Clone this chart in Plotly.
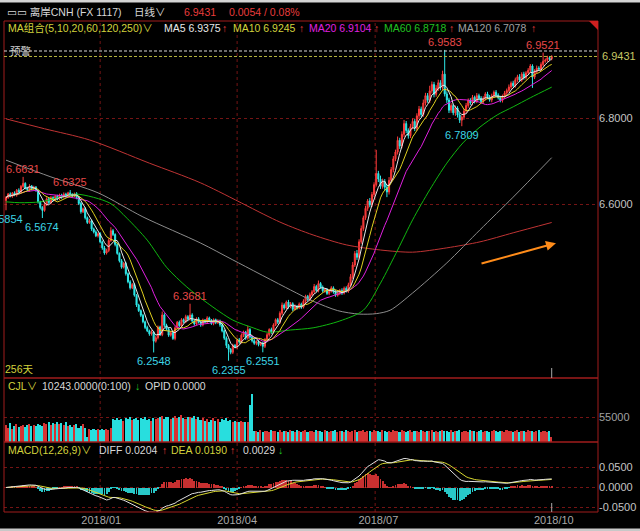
import plotly.graph_objects as go
import pandas as pd

# ---------------- data ----------------
closes = [
    6.6150, 6.6230, 6.6180, 6.6260, 6.6210, 6.6320, 6.6280, 6.6410, 6.6480, 6.6370, 6.6330, 6.6420, 6.6350, 6.6390, 6.6310, 6.6050,
    6.5920, 6.5850, 6.5990, 6.6120, 6.6030, 6.6150, 6.6090, 6.6180, 6.6120, 6.6210, 6.6160, 6.6230, 6.6180, 6.6260, 6.6220, 6.6190,
    6.6240, 6.6150, 6.6010, 6.5820, 6.5890, 6.5680, 6.5570, 6.5610, 6.5420, 6.5350, 6.5260, 6.5310, 6.5120, 6.4980, 6.4860, 6.4920,
    6.5150, 6.5380, 6.5290, 6.5060, 6.4850, 6.4680, 6.4530, 6.4620, 6.4380, 6.4190, 6.4050, 6.4130, 6.3880, 6.3650, 6.3520, 6.3410,
    6.3260, 6.3130, 6.3050, 6.2980, 6.3020, 6.2810, 6.2890, 6.3140, 6.2960, 6.3420, 6.3180, 6.3090, 6.2950, 6.3010, 6.2870, 6.3120,
    6.3250, 6.3170, 6.3310, 6.3260, 6.3380, 6.3320, 6.3420, 6.3280, 6.3210, 6.3330, 6.3250, 6.3190, 6.3300, 6.3260, 6.3350, 6.3290,
    6.3220, 6.3310, 6.3240, 6.3280, 6.3190, 6.3050, 6.2880, 6.2710, 6.2620, 6.2550, 6.2710, 6.2680, 6.2840, 6.2790, 6.2950, 6.3020,
    6.2880, 6.3080, 6.2910, 6.2820, 6.2760, 6.2800, 6.2730, 6.2770, 6.2690, 6.2850, 6.2960, 6.3080, 6.3020, 6.3190, 6.3310, 6.3250,
    6.3460, 6.3650, 6.3580, 6.3720, 6.3610, 6.3680, 6.3550, 6.3620, 6.3590, 6.3670, 6.3600, 6.3740, 6.3850, 6.3780, 6.3890, 6.3960,
    6.4080, 6.3990, 6.4150, 6.4060, 6.3980, 6.4010, 6.3920, 6.3970, 6.4050, 6.3960, 6.3880, 6.3920, 6.3990, 6.3930, 6.4040, 6.3980,
    6.4120, 6.4310, 6.4580, 6.4850, 6.4760, 6.5120, 6.5430, 6.5680, 6.5900, 6.6070, 6.5980, 6.6220, 6.6450, 6.6710, 6.6580, 6.6410,
    6.6520, 6.6390, 6.6280, 6.6550, 6.6800, 6.7050, 6.7210, 6.7480, 6.7350, 6.7620, 6.7870, 6.7710, 6.7590, 6.7800, 6.7920, 6.7760,
    6.8050, 6.8210, 6.8080, 6.8350, 6.8520, 6.8410, 6.8630, 6.8780, 6.8550, 6.8690, 6.8820, 6.8710, 6.9020, 6.8560, 6.8420, 6.8180,
    6.8290, 6.8120, 6.8230, 6.8070, 6.7950, 6.8020, 6.8160, 6.8290, 6.8410, 6.8350, 6.8480, 6.8390, 6.8520, 6.8460, 6.8380, 6.8450,
    6.8560, 6.8490, 6.8420, 6.8510, 6.8600, 6.8530, 6.8470, 6.8410, 6.8490, 6.8580, 6.8640, 6.8720, 6.8810, 6.8750, 6.8890, 6.8960,
    6.8880, 6.9020, 6.8940, 6.9050, 6.9110, 6.9210, 6.8950, 6.9080, 6.9160, 6.9140, 6.9245, 6.9320, 6.9345, 6.9402, 6.9377, 6.9431,
]
first_open = 6.6080

# upper / lower shadow lengths in pips (0.0001)
wick_up = [
    30, 25, 40, 20, 35, 28, 45, 30, 151, 25, 30, 40, 22, 35, 28, 20,
    25, 30, 45, 35, 28, 40, 30, 25, 35, 30, 28, 40, 32, 25, 65, 30,
    25, 35, 30, 40, 28, 35, 30, 45, 25, 30, 40, 28, 35, 30, 45, 40,
    50, 80, 40, 30, 35, 25, 40, 30, 35, 28, 40, 30, 35, 25, 30, 28,
    35, 30, 40, 30, 45, 30, 40, 35, 30, 80, 40, 35, 45, 30, 40, 35,
    30, 40, 35, 30, 45, 35, 261, 40, 30, 35, 40, 30, 35, 25, 40, 30,
    35, 30, 25, 40, 30, 35, 30, 40, 35, 30, 40, 35, 30, 45, 40, 35,
    30, 90, 35, 30, 40, 30, 35, 30, 28, 35, 40, 30, 45, 35, 30, 40,
    45, 60, 40, 35, 50, 40, 35, 45, 30, 40, 35, 45, 40, 35, 50, 40,
    60, 40, 70, 35, 45, 40, 35, 50, 40, 35, 45, 40, 35, 50, 40, 45,
    50, 60, 70, 55, 80, 60, 70, 50, 60, 45, 70, 60, 55, 550, 60, 80,
    70, 60, 50, 75, 60, 65, 55, 90, 60, 70, 85, 60, 50, 65, 70, 55,
    60, 70, 55, 80, 65, 60, 120, 70, 60, 75, 70, 60, 80, 563, 60, 50,
    55, 40, 60, 45, 50, 40, 55, 60, 45, 50, 55, 40, 60, 45, 50, 55,
    40, 50, 45, 55, 40, 50, 45, 40, 55, 50, 45, 60, 40, 55, 50, 45,
    60, 45, 55, 40, 50, 45, 40, 55, 60, 45, 50, 201, 40, 45, 35, 30,
]
wick_dn = [
    226, 30, 25, 35, 28, 40, 30, 25, 35, 30, 28, 40, 30, 35, 25, 40,
    45, 176, 30, 35, 28, 40, 30, 25, 35, 30, 40, 28, 35, 30, 25, 35,
    30, 40, 35, 45, 30, 40, 35, 30, 45, 35, 30, 40, 35, 45, 40, 35,
    40, 30, 35, 45, 30, 40, 35, 30, 45, 35, 40, 30, 35, 45, 30, 40,
    35, 40, 30, 45, 40, 262, 35, 40, 30, 35, 45, 30, 40, 35, 30, 40,
    35, 30, 40, 35, 30, 45, 35, 30, 40, 35, 30, 45, 35, 30, 40, 35,
    30, 40, 35, 30, 45, 35, 40, 60, 265, 45, 40, 35, 50, 40, 35, 45,
    40, 35, 45, 40, 35, 45, 40, 35, 139, 40, 35, 45, 40, 35, 30, 40,
    35, 45, 40, 30, 45, 35, 40, 30, 45, 35, 40, 30, 45, 35, 40, 35,
    40, 35, 45, 30, 40, 45, 35, 40, 30, 45, 40, 35, 40, 45, 35, 40,
    45, 40, 50, 45, 60, 50, 45, 55, 50, 60, 55, 50, 60, 45, 70, 60,
    55, 80, 120, 60, 50, 65, 55, 60, 70, 55, 60, 65, 70, 55, 60, 65,
    55, 60, 65, 50, 60, 55, 65, 60, 70, 55, 60, 65, 55, 60, 70, 65,
    60, 55, 70, 60, 65, 141, 60, 55, 50, 45, 55, 50, 45, 55, 40, 50,
    45, 50, 40, 55, 45, 50, 40, 45, 50, 40, 55, 45, 50, 40, 45, 50,
    45, 40, 50, 45, 40, 55, 250, 45, 40, 50, 45, 40, 35, 40, 30, 35,
]
volumes = [
    37000, 30000, 41000, 29000, 35000, 40000, 33000, 36000, 38000, 34000, 37000, 39000, 35000, 38000, 36000, 40000,
    37000, 35000, 41000, 39000, 43000, 38000, 42000, 40000, 44000, 39000, 41000, 37000, 43000, 36000, 38000, 33000,
    37000, 40000, 31000, 35000, 39000, 30000, 11000, 28000, 27000, 29000, 26000, 28000, 27000, 29000, 26000, 28000,
    27000, 30000, 50000, 48000, 53000, 49000, 51000, 47000, 52000, 50000, 54000, 49000, 51000, 53000, 48000, 52000,
    50000, 55000, 49000, 51000, 47000, 53000, 50000, 52000, 55000, 58000, 51000, 54000, 56000, 50000, 53000, 57000,
    52000, 55000, 59000, 53000, 51000, 56000, 54000, 52000, 57000, 50000, 55000, 48000, 52000, 46000, 50000, 44000,
    49000, 53000, 47000, 51000, 45000, 50000, 48000, 52000, 46000, 49000, 43000, 47000, 45000, 44000, 46000, 43000,
    45000, 44000, 81000, 106000, 24000, 25000, 22000, 26000, 23000, 25000, 24000, 21000, 26000, 24000, 25000, 23000,
    26000, 22000, 24000, 25000, 23000, 27000, 24000, 22000, 26000, 25000, 23000, 24000, 26000, 22000, 25000, 24000,
    23000, 26000, 24000, 25000, 22000, 26000, 24000, 23000, 25000, 24000, 27000, 23000, 25000, 24000, 22000, 26000,
    25000, 23000, 24000, 26000, 22000, 25000, 24000, 27000, 23000, 25000, 24000, 22000, 26000, 24000, 25000, 23000,
    26000, 24000, 23000, 25000, 22000, 26000, 24000, 25000, 23000, 27000, 24000, 22000, 25000, 26000, 23000, 24000,
    25000, 22000, 26000, 24000, 23000, 25000, 24000, 26000, 22000, 25000, 23000, 24000, 27000, 25000, 24000, 22000,
    26000, 23000, 25000, 24000, 26000, 22000, 24000, 25000, 23000, 26000, 24000, 25000, 22000, 24000, 26000, 23000,
    25000, 24000, 22000, 25000, 26000, 24000, 23000, 25000, 24000, 22000, 26000, 25000, 24000, 23000, 25000, 26000,
    22000, 24000, 25000, 23000, 26000, 24000, 25000, 22000, 24000, 26000, 23000, 25000, 24000, 23000, 25000, 10243,
]

# long moving averages (need history before the window) read at sample bars
ma60_x = [0, 6.5, 16, 25, 33, 48.6, 56.5, 66, 75, 84.5, 94, 106, 115.5, 122, 133, 143.5, 156, 167, 175, 183, 190, 198, 206, 213.5, 221.5, 229.5, 237, 245, 255]
ma60_y = [6.605, 6.603, 6.605, 6.615, 6.623, 6.602, 6.567, 6.516, 6.453, 6.407, 6.370, 6.330, 6.312, 6.302, 6.307, 6.312, 6.328, 6.353, 6.416, 6.493, 6.563, 6.633, 6.695, 6.742, 6.779, 6.807, 6.826, 6.847, 6.8718]
ma120_x = [0, 21, 43, 64, 91, 106, 133, 143.5, 155, 165, 173, 179.5, 190, 206, 221.5, 237, 255]
ma120_y = [6.702, 6.663, 6.626, 6.570, 6.509, 6.470, 6.400, 6.374, 6.352, 6.344, 6.345, 6.353, 6.393, 6.463, 6.540, 6.616, 6.7078]
ma250_x = [0, 18, 39, 67, 91, 128, 143.5, 159, 175, 190, 206, 221.5, 237, 255]
ma250_y = [6.798, 6.775, 6.749, 6.695, 6.649, 6.558, 6.528, 6.505, 6.493, 6.488, 6.498, 6.512, 6.533, 6.557]

# values printed in the header bars of the picture
last_change = (0.0054, 0.08)
ma_header = [("MA5", 6.9375), ("MA10", 6.9245), ("MA20", 6.9104), ("MA60", 6.8718), ("MA120", 6.7078)]
macd_header = [("DIFF", 0.0204), ("DEA", 0.0190), ("", 0.0029)]

alert_level = 6.9558
date_ticks = [44.5, 108, 174, 256]
date_labels = ["2018/01", "2018/04", "2018/07", "2018/10"]
month_lines = [44, 108, 172.5]
price_ticks = [6.6, 6.8]
vol_ticks = [55000]
macd_ticks = [-0.05, 0.0, 0.05]
# extreme labels: (bar index, 'h' for high / 'l' for low)
extremes = [(8, 'h'), (30, 'h'), (0, 'l'), (17, 'l'), (86, 'h'), (69, 'l'), (104, 'l'), (120, 'l'),
            (205, 'h'), (213, 'l'), (251, 'h')]
arrow = dict(x0=221.5, y0=6.4605, x1=257, y1=6.509)

# ---------------- derived series ----------------
n = len(closes)
assert len(wick_up) == n and len(wick_dn) == n and len(volumes) == n
idx = list(range(n))
opens = [first_open] + closes[:-1]
highs = [max(o, c) + u / 10000 for o, c, u in zip(opens, closes, wick_up)]
lows = [min(o, c) - d / 10000 for o, c, d in zip(opens, closes, wick_dn)]
s = pd.Series(closes)
ma5 = s.rolling(5, min_periods=1).mean()
ma10 = s.rolling(10, min_periods=1).mean()
ma20 = s.rolling(20, min_periods=1).mean()
ema12 = s.ewm(span=12, adjust=False).mean()
ema26 = s.ewm(span=26, adjust=False).mean()
diff = ema12 - ema26
dea = diff.ewm(span=9, adjust=False).mean()
hist = 2 * (diff - dea)

RED = '#ff3c3c'
CYAN = '#2ee8e8'
up = [c >= o for o, c in zip(opens, closes)]
vol_colors = ['#d63434' if u else '#28dede' for u in up]
hist_colors = ['#c83030' if h >= 0 else '#28c8c8' for h in hist]

# ---------------- geometry helpers ----------------
W, H = 640, 531
L, R, T, B = 4, 42, 21, 19
PW, PH = W - L - R, H - T - B


def fx(px):
    return (px - L) / PW


def fy(py):
    return (H - B - py) / PH


FONT = "Liberation Sans, Noto Sans CJK SC, DejaVu Sans, sans-serif"
BORDER = '#a01c1c'
GRID = '#741414'

fig = go.Figure()
fig.add_trace(go.Candlestick(
    x=idx, open=opens, high=highs, low=lows, close=closes,
    increasing=dict(line=dict(color=RED, width=1), fillcolor='#d02a2a'),
    decreasing=dict(line=dict(color=CYAN, width=1), fillcolor=CYAN),
    whiskerwidth=0, xaxis='x', yaxis='y', hoverinfo='skip'))
for xs, ys, col in [(ma250_x, ma250_y, '#c03434'), (ma120_x, ma120_y, '#8c8c8c'), (ma60_x, ma60_y, '#10b810')]:
    fig.add_trace(go.Scatter(x=xs, y=ys, mode='lines', line=dict(color=col, width=1, shape='spline', smoothing=0.8),
                             xaxis='x', yaxis='y', hoverinfo='skip'))
for ys, col in [(ma20, '#e020e0'), (ma10, '#e0d020'), (ma5, '#e8e8e8')]:
    fig.add_trace(go.Scatter(x=idx, y=ys, mode='lines', line=dict(color=col, width=1),
                             xaxis='x', yaxis='y', hoverinfo='skip'))

fig.add_trace(go.Bar(x=idx, y=volumes, marker=dict(color=vol_colors, line=dict(width=0)), width=0.72,
                     xaxis='x2', yaxis='y2', hoverinfo='skip'))
fig.add_trace(go.Bar(x=idx, y=hist, marker=dict(color=hist_colors, line=dict(width=0)), width=0.4,
                     xaxis='x3', yaxis='y3', hoverinfo='skip'))
fig.add_trace(go.Scatter(x=idx, y=dea, mode='lines', line=dict(color='#d8d830', width=1), xaxis='x3', yaxis='y3', hoverinfo='skip'))
fig.add_trace(go.Scatter(x=idx, y=diff, mode='lines', line=dict(color='#e0e0e0', width=1), xaxis='x3', yaxis='y3', hoverinfo='skip'))

X0 = -0.935
X1 = X0 + PW / 2.14
d_price = [fy(378), 1.0]
d_vol = [fy(442), fy(378)]
d_macd = [0.0, fy(442)]

ax_common = dict(showgrid=False, zeroline=False, showline=False, fixedrange=True)
y_common = dict(side='right', zeroline=False, showline=False, ticks='', gridcolor=GRID, griddash='dot',
                gridwidth=1, tickfont=dict(color='#c4c4c4', size=11, family=FONT), fixedrange=True)
fig.update_layout(
    width=W, height=H, margin=dict(l=L, r=R, t=T, b=B),
    paper_bgcolor='#000000', plot_bgcolor='#000000', showlegend=False, bargap=0,
    font=dict(family=FONT, size=11, color='#c8c8c8'),
    xaxis=dict(domain=[0, 1], range=[X0, X1], anchor='y', showticklabels=False,
               rangeslider=dict(visible=False), **ax_common),
    xaxis2=dict(domain=[0, 1], range=[X0, X1], anchor='y2', matches='x', showticklabels=False, **ax_common),
    xaxis3=dict(domain=[0, 1], range=[X0, X1], anchor='y3', matches='x', tickvals=date_ticks,
                ticktext=date_labels, ticks='', tickfont=dict(color='#a8a8a8', size=11, family=FONT), **ax_common),
    yaxis=dict(domain=d_price, range=[6.8 - 260 / 430, 6.8 + 97 / 430], anchor='x', tickvals=price_ticks,
               tickformat='.4f', **y_common),
    yaxis2=dict(domain=d_vol, range=[0, 140800], anchor='x2', tickvals=vol_ticks,
                ticktext=[str(v) for v in vol_ticks], **y_common),
    yaxis3=dict(domain=d_macd, range=[-0.06125, 0.11375], anchor='x3', tickvals=macd_ticks,
                ticktext=[f"{v:.4f}" for v in macd_ticks], **y_common),
)
fig.update_layout(yaxis2_tickfont_color='#a0a0a0')

shapes = []
# month separators
for m in month_lines:
    shapes.append(dict(type='line', xref='x', yref='paper', x0=m, x1=m, y0=0, y1=1,
                       line=dict(color=GRID, width=1, dash='dot'), layer='below'))
# panel borders
for d in (d_price, d_vol, d_macd):
    shapes.append(dict(type='rect', xref='paper', yref='paper', x0=0, x1=1, y0=d[0], y1=d[1],
                       line=dict(color=BORDER, width=1), fillcolor='rgba(0,0,0,0)', layer='above'))
# alert line and last price line
shapes.append(dict(type='line', xref='paper', yref='y', x0=0, x1=1, y0=alert_level, y1=alert_level,
                   line=dict(color='#d8d8d8', width=1, dash='3px,2px')))
shapes.append(dict(type='line', xref='paper', yref='y', x0=0, x1=1, y0=closes[-1], y1=closes[-1],
                   line=dict(color='#b8b840', width=1, dash='3px,2px')))
# cursor ticks at last bar
shapes.append(dict(type='line', xref='x', yref='paper', x0=n - 1, x1=n - 1, y0=d_price[0], y1=fy(368),
                   line=dict(color='#a8a8a8', width=1)))
shapes.append(dict(type='line', xref='x', yref='paper', x0=n - 1, x1=n - 1, y0=0, y1=fy(503),
                   line=dict(color='#a8a8a8', width=1)))
# corner triangle
shapes.append(dict(type='path', xref='paper', yref='paper',
                   path=f"M {fx(589)} {fy(21)} L {fx(598)} {fy(21)} L {fx(598)} {fy(30)} Z",
                   fillcolor='#d02020', line=dict(width=0)))
# window frame strips
shapes.append(dict(type='rect', xref='paper', yref='paper', x0=fx(0), x1=fx(640), y0=fy(2.5), y1=fy(0),
                   fillcolor='#d4d4d4', line=dict(width=0)))
shapes.append(dict(type='rect', xref='paper', yref='paper', x0=fx(0), x1=fx(640), y0=fy(531), y1=fy(528.5),
                   fillcolor='#c8c8c8', line=dict(width=0)))
fig.update_layout(shapes=shapes)

HS = 10.5  # header font size


def txt(px, py, s, color, size=HS):
    fig.add_annotation(x=fx(px), y=fy(py), xref='paper', yref='paper', text=s, showarrow=False,
                       xanchor='left', yanchor='middle', font=dict(color=color, size=size, family=FONT),
                       borderpad=0)


WHITE = '#d8d8d8'
YEL = '#d2d23c'
HRED = '#e83c3c'
GRN = '#20c020'
# header line 1
txt(6, 12, "▭▭ 离岸CNH (FX 1117)", WHITE)
txt(133, 12, "日线∨", WHITE)
txt(183, 12, f"{closes[-1]:.4f}", HRED)
txt(228, 12, f"{last_change[0]:.4f} / {last_change[1]:.2f}%", HRED)
# header line 2 (MA values)
txt(7, 28, "MA组合(5,10,20,60,120,250)∨", YEL)
ma_cols = ['#e8e8e8', YEL, '#e020e0', GRN, '#a0a0a0']
ma_pos = [(163, 221), (232, 298), (308, 373), (383, 448), (457, 530)]
for (name, val), col, (p0, p1) in zip(ma_header, ma_cols, ma_pos):
    txt(p0, 28, f"{name} {val:.4f}", col)
    txt(p1, 28, "↑", HRED)
txt(9, 51, "预警", '#d0d0d0')
txt(4, 369, f"{n}天", YEL)
# volume header
txt(7, 386, "CJL∨", YEL)
txt(41, 386, f"{volumes[-1]:.4f}(0:100)", WHITE)
txt(134, 386, "↓", GRN)
txt(144, 386, "OPID 0.0000", WHITE)
# macd header
txt(7, 450, "MACD(12,26,9)∨", YEL)
mcols = [WHITE, YEL, WHITE]
mpos = [(98, 161, HRED, "↑"), (170, 229, HRED, "↑"), (242, 277, GRN, "↓")]
for (name, val), col, (p0, p1, acol, ach) in zip(macd_header, mcols, mpos):
    txt(p0, 450, (f"{name} " if name else "") + f"{val:.4f}", col)
    txt(p1, 450, ach, acol)
# last price tag on the right
fig.add_annotation(x=1, y=closes[-1], xref='paper', yref='y', text=f"{closes[-1]:.4f}", showarrow=False,
                   xanchor='left', yanchor='middle', xshift=2, font=dict(color='#c8c864', size=11, family=FONT))

# extreme value labels
for i, kind in extremes:
    if kind == 'h':
        fig.add_annotation(x=i, y=highs[i], xref='x', yref='y', text=f"{highs[i]:.4f}", showarrow=False,
                           yanchor='middle', yshift=8, font=dict(color='#e84848', size=11, family=FONT))
    else:
        fig.add_annotation(x=i, y=lows[i], xref='x', yref='y', text=f"{lows[i]:.4f}", showarrow=False,
                           yanchor='middle', yshift=-9, font=dict(color='#3cd4e4', size=11, family=FONT))

# orange trend arrow
fig.add_annotation(x=arrow['x1'], y=arrow['y1'], ax=arrow['x0'], ay=arrow['y0'], xref='x', yref='y',
                   axref='x', ayref='y', text='', showarrow=True, arrowhead=2, arrowsize=1,
                   arrowwidth=2, arrowcolor='#ff8c1a')

fig.write_html("out.html")
